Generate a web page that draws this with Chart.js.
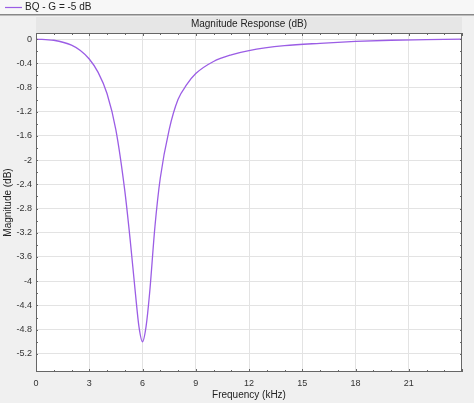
<!DOCTYPE html><html><head><meta charset="utf-8">
<script src="https://cdn.jsdelivr.net/npm/chart.js@4"></script>
<style>html,body{margin:0;padding:0;background:#f0f0f0;overflow:hidden}#c{position:absolute;left:0;top:0}</style>
</head><body><canvas id="c" width="474" height="403"></canvas>
<script>
const freqKHz = [0,1,2,2.5,3,3.5,4,4.5,5,5.3,5.6,5.8,6,6.2,6.4,6.7,7,7.5,8,8.5,9,10,11,12,14,16,18,20,22,24];
const magDB   = [0,-0.02,-0.1,-0.19,-0.33,-0.55,-0.9,-1.5,-2.5,-3.3,-4.2,-4.75,-5.0,-4.75,-4.2,-3.1,-2.3,-1.5,-1.0,-0.75,-0.57,-0.37,-0.26,-0.19,-0.11,-0.07,-0.04,-0.02,-0.01,0];
const yTicks = [0,-0.4,-0.8,-1.2,-1.6,-2,-2.4,-2.8,-3.2,-3.6,-4,-4.4,-4.8,-5.2];
const xTicks = [0,3,6,9,12,15,18,21];
const seriesName = 'BQ - G = -5 dB';
const titleText = 'Magnitude Response (dB)';
const xLabel = 'Frequency (kHz)', yLabel = 'Magnitude (dB)';
const font = 'Liberation Sans, Arial, sans-serif';
const deco = {id:'deco',
 beforeDraw(ch){const c=ch.ctx,a=ch.chartArea;c.save();
  c.fillStyle='#f0f0f0';c.fillRect(0,0,474,403);
  c.fillStyle='#f7f7f7';c.fillRect(0,0,474,14);
  c.fillStyle='#888';c.fillRect(0,14,474,1.5);
  c.strokeStyle='#9b5de5';c.lineWidth=1.2;c.beginPath();c.moveTo(5,7.5);c.lineTo(22,7.5);c.stroke();
  c.fillStyle='#222';c.font='10px '+font;c.textBaseline='middle';c.fillText(seriesName,25,7.5);
  c.fillStyle='#e6e6e6';c.fillRect(a.left,17,a.right-a.left,a.top-17);
  c.fillStyle='#222';c.textAlign='center';c.fillText(titleText,(a.left+a.right)/2,24);
  c.fillStyle='#fff';c.fillRect(a.left,a.top,a.right-a.left,a.bottom-a.top);c.restore();},
 afterDraw(ch){const c=ch.ctx,a=ch.chartArea;c.save();c.strokeStyle='#666';c.lineWidth=1;
  c.strokeRect(a.left+0.5,a.top+0.5,a.right-a.left-1,a.bottom-a.top-1);
  const xs=ch.scales.x,ys=ch.scales.y;c.beginPath();
  for(let v=0;v<=24;v+=1){const px=Math.round(xs.getPixelForValue(v))+0.5;const l=v%3?2:3;c.moveTo(px,a.bottom);c.lineTo(px,a.bottom-l);c.moveTo(px,a.top);c.lineTo(px,a.top+l);}
  for(let v=0;v>=-5.4;v-=0.2){const py=Math.round(ys.getPixelForValue(v))+0.5;c.moveTo(a.left,py);c.lineTo(a.left+2,py);c.moveTo(a.right,py);c.lineTo(a.right-2,py);}
  c.stroke();c.restore();}};
new Chart(document.getElementById('c'),{type:'line',
 data:{datasets:[{data:freqKHz.map((x,i)=>({x,y:magDB[i]})),borderColor:'#9b5de5',borderWidth:1.3,pointRadius:0,cubicInterpolationMode:'monotone',fill:false}]},
 options:{responsive:false,animation:false,devicePixelRatio:1,
  layout:{padding:{top:33,right:12,left:2,bottom:2}},
  plugins:{legend:{display:false},title:{display:false},tooltip:{enabled:false}},
  scales:{
   x:{type:'linear',min:0,max:24,afterBuildTicks:s=>{s.ticks=xTicks.map(v=>({value:v}))},
    grid:{color:'#e3e3e3',drawTicks:false},border:{display:false},
    ticks:{color:'#333',font:{size:9,family:font},padding:6,maxRotation:0,callback:v=>String(v)},
    title:{display:true,text:xLabel,color:'#222',font:{size:10,family:font},padding:{top:0,bottom:0}},
    afterFit:s=>{s.height=29}},
   y:{min:-5.5,max:0.1,afterBuildTicks:s=>{s.ticks=yTicks.map(v=>({value:v}))},
    grid:{color:'#e3e3e3',drawTicks:false},border:{display:false},
    ticks:{color:'#333',font:{size:9,family:font},padding:4,callback:v=>String(Math.round(v*10)/10)},
    title:{display:true,text:yLabel,color:'#222',font:{size:10,family:font},padding:{top:0,bottom:0}},
    afterFit:s=>{s.width=34}}}},
 plugins:[deco]});
</script></body></html>
